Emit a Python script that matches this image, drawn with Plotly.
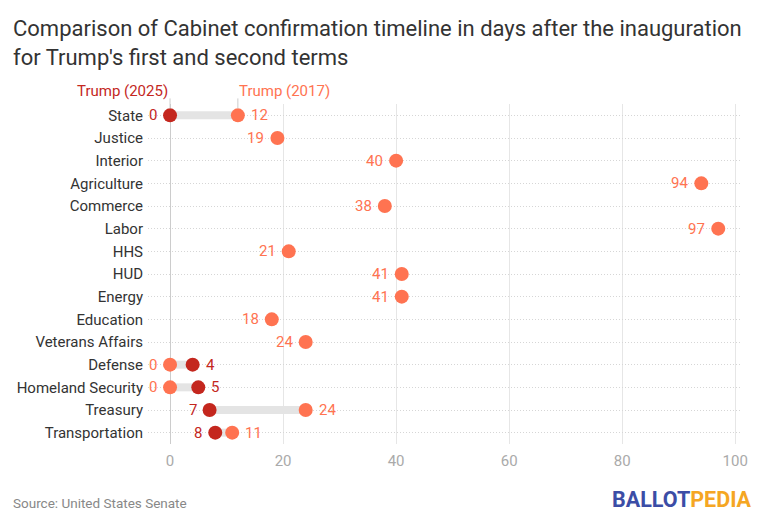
import plotly.graph_objects as go

departments = ["State", "Justice", "Interior", "Agriculture", "Commerce", "Labor", "HHS",
               "HUD", "Energy", "Education", "Veterans Affairs", "Defense",
               "Homeland Security", "Treasury", "Transportation"]
trump_2017 = [12, 19, 40, 94, 38, 97, 21, 41, 41, 18, 24, 0, 0, 24, 11]
trump_2025 = [0, None, None, None, None, None, None, None, None, None, None, 4, 5, 7, 8]
x_ticks = [0, 20, 40, 60, 80, 100]

C17 = "#ff7351"
C25 = "#c4271e"
FONT = "Roboto"

W, H = 768, 525
L, R, T, B = 148, 26, 103.6, 80.7
plot_h = H - T - B
plot_w = W - L - R

def px_y(py):
    """page pixel y (from top) -> paper coord"""
    return (H - B - py) / plot_h

def px_x(px):
    return (px - L) / plot_w

fig = go.Figure()

# connectors
cx, cy = [], []
for d, a, b in zip(departments, trump_2017, trump_2025):
    if a is not None and b is not None:
        cx += [a, b, None]
        cy += [d, d, None]
fig.add_trace(go.Scatter(x=cx, y=cy, mode="lines",
                         line=dict(color="#e4e4e4", width=8),
                         hoverinfo="skip", showlegend=False))

fig.add_trace(go.Scatter(
    x=trump_2017, y=departments, mode="markers",
    marker=dict(color=C17, size=14),
    name="Trump (2017)", showlegend=False, cliponaxis=False))

fig.add_trace(go.Scatter(
    x=trump_2025, y=departments, mode="markers",
    marker=dict(color=C25, size=14),
    name="Trump (2025)", showlegend=False, cliponaxis=False))

# value labels
def side(v, o):
    if o is None:
        return "left"
    return "right" if v >= o else "left"

for series, other, color in ((trump_2017, trump_2025, C17), (trump_2025, trump_2017, C25)):
    for d, v, o in zip(departments, series, other):
        if v is None:
            continue
        s = side(v, o)
        fig.add_annotation(x=v, y=d, xref="x", yref="y", text=str(v), showarrow=False,
                           xanchor="left" if s == "right" else "right", yanchor="middle",
                           xshift=11 if s == "right" else -11,
                           font=dict(size=15, color=color, family=FONT))

fig.update_layout(
    width=W, height=H,
    margin=dict(l=L, r=R, t=T, b=B),
    paper_bgcolor="white", plot_bgcolor="white",
    font=dict(family=FONT, color="#333333"),
    xaxis=dict(range=[-3.9, 101.2], tickvals=x_ticks, ticktext=[str(v) for v in x_ticks],
               showgrid=True, gridcolor="#e6e6e6", gridwidth=1,
               zeroline=True, zerolinecolor="#cccccc", zerolinewidth=1,
               showline=False, ticks="", ticklabelstandoff=6,
               tickfont=dict(size=15, color="#aaaaaa", family=FONT)),
    yaxis=dict(type="category", categoryorder="array",
               categoryarray=departments[::-1], range=[-0.5, len(departments) - 0.5],
               showgrid=True, gridcolor="#d6d6d6", griddash="1px,2px", gridwidth=1,
               zeroline=False, showline=False, ticks="", ticklabelstandoff=4,
               tickfont=dict(size=15, color="#333333", family=FONT)),
)

# title
fig.add_annotation(x=px_x(11), xref="paper", y=px_y(13), yref="paper",
                   text="Comparison of Cabinet confirmation timeline in days after the inauguration<br>for Trump's first and second terms",
                   showarrow=False, xanchor="left", yanchor="top", align="left",
                   font=dict(size=22, color="#333333", family=FONT))

# legend ticks and labels
fig.add_shape(type="line", xref="x", yref="paper", x0=trump_2025[0], x1=trump_2025[0],
              y0=px_y(108), y1=px_y(98), line=dict(color="#cccccc", width=1))
fig.add_shape(type="line", xref="x", yref="paper", x0=trump_2017[0], x1=trump_2017[0],
              y0=px_y(108), y1=px_y(98), line=dict(color="#cccccc", width=1))
fig.add_annotation(x=trump_2025[0], xref="x", y=px_y(91), yref="paper",
                   text="Trump (2025)", showarrow=False, xanchor="right", yanchor="middle",
                   xshift=0, font=dict(size=15, color=C25, family=FONT))
fig.add_annotation(x=trump_2017[0], xref="x", y=px_y(91), yref="paper",
                   text="Trump (2017)", showarrow=False, xanchor="left", yanchor="middle",
                   xshift=-1, font=dict(size=15, color=C17, family=FONT))

# footer
fig.add_annotation(x=px_x(11), xref="paper", y=px_y(503), yref="paper",
                   text="Source: United States Senate", showarrow=False,
                   xanchor="left", yanchor="middle",
                   font=dict(size=13.5, color="#888888", family=FONT))
fig.add_annotation(x=px_x(754), xref="paper", y=px_y(500), yref="paper",
                   text="<b><span style='color:#3b4da6'>BALLOT</span><span style='color:#f5a623'>PEDIA</span></b>",
                   showarrow=False, xanchor="right", yanchor="middle",
                   font=dict(size=21.5, family=FONT))

fig.write_html("out.html")
